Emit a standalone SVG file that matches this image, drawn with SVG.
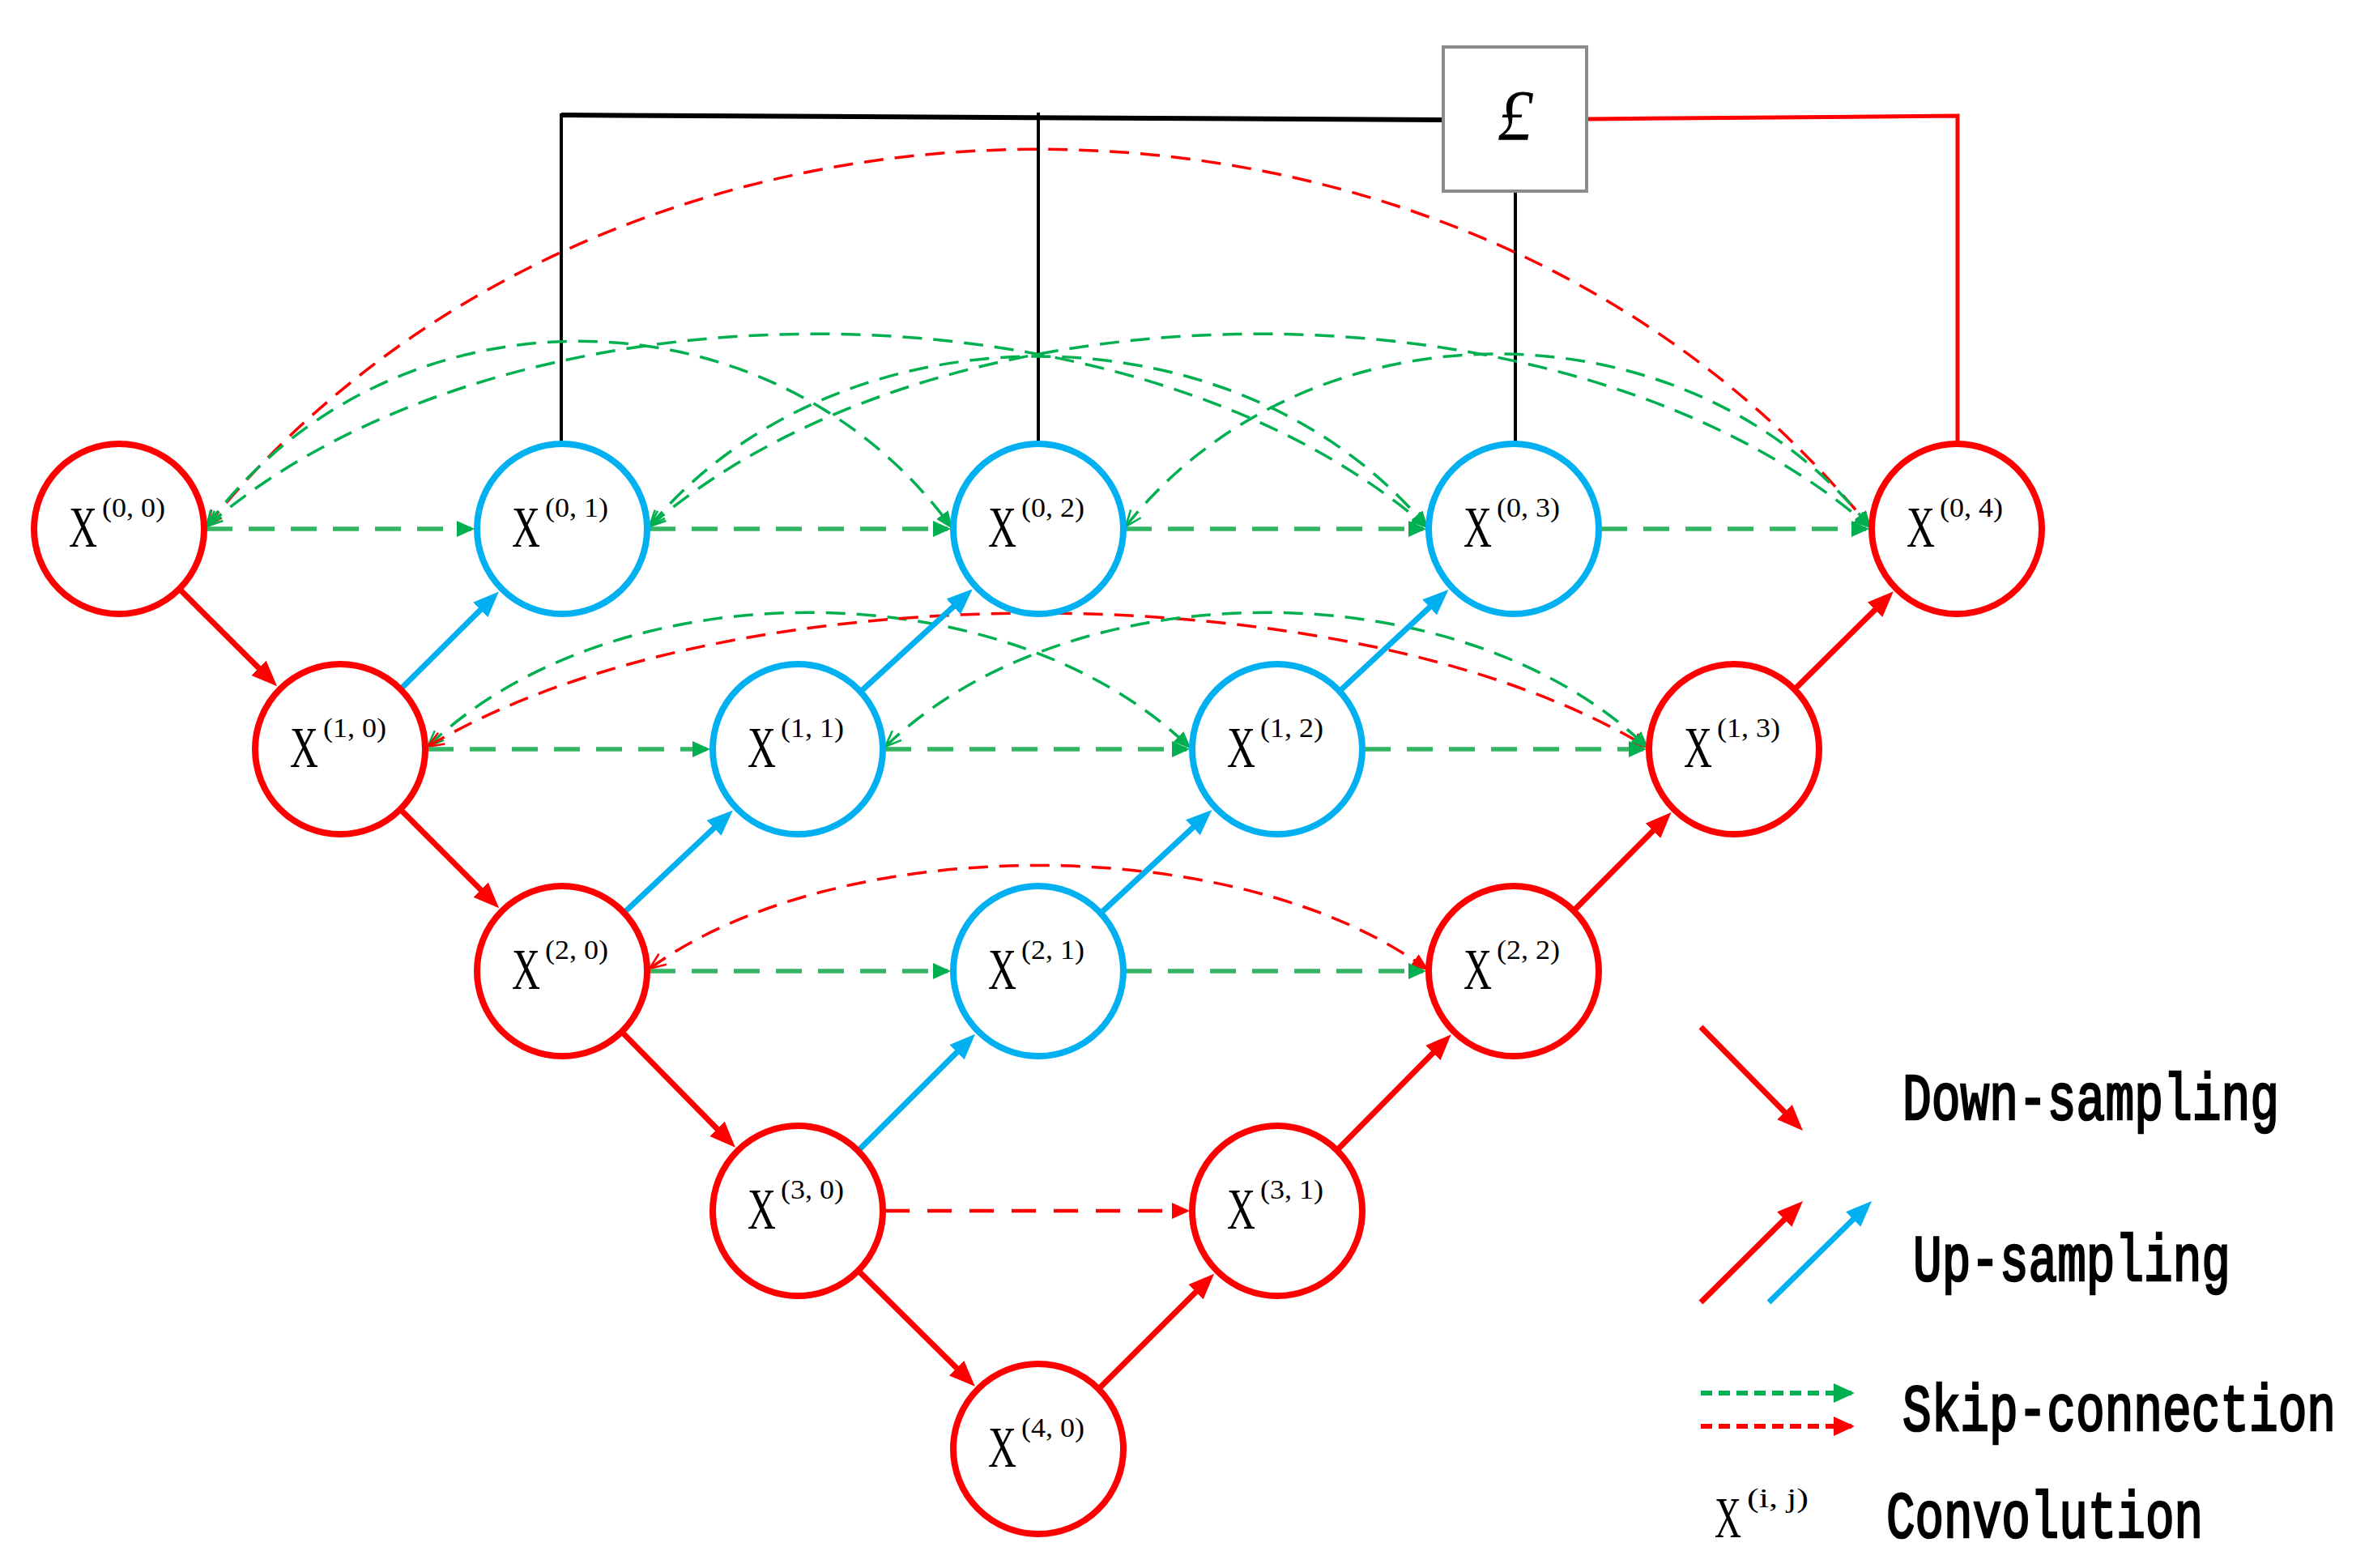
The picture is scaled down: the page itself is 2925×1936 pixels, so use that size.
<svg xmlns="http://www.w3.org/2000/svg" width="2925" height="1936" viewBox="0 0 2925 1936">
<style>
  .bg { fill: #ffffff; }
  .red circle { fill: #ffffff; stroke: #ff0000; stroke-width: 8; }
  .blue circle { fill: #ffffff; stroke: #00b0f0; stroke-width: 8; }
  .lx { font-family: "Liberation Serif", serif; font-size: 50px; fill: #000000; }
  .ls { font-family: "Liberation Serif", serif; font-size: 33px; fill: #000000; }
  .down { stroke: #ff0000; stroke-width: 7; fill: none; marker-end: url(#aR); }
  .upR { stroke: #ff0000; stroke-width: 7; fill: none; marker-end: url(#aR); }
  .upB { stroke: #00b0f0; stroke-width: 7; fill: none; marker-end: url(#aB); }
  .skG { stroke: #33b563; stroke-width: 5.5; fill: none; stroke-dasharray: 32 20; marker-end: url(#mG); }
  .skR { stroke: #ff0000; stroke-width: 4.5; fill: none; stroke-dasharray: 30 22; marker-end: url(#mR); }
  .arcG { stroke: #00b050; stroke-width: 3.5; fill: none; stroke-dasharray: 24 14; marker-start: url(#oG); marker-end: url(#eG); }
  .arcR { stroke: #ff0000; stroke-width: 3.5; fill: none; stroke-dasharray: 24 14; marker-start: url(#oR); marker-end: url(#eR); }
  .loss { stroke: #000000; fill: none; }
  .leg { font-family: "Liberation Mono", monospace; font-size: 60px; font-weight: normal; fill: #000000; stroke: #000000; stroke-width: 2; }
</style>
<defs>
  <marker id="aR" viewBox="0 0 32 26" markerWidth="32" markerHeight="26" refX="22" refY="13" orient="auto" markerUnits="userSpaceOnUse"><path d="M0,0 L32,13 L0,26 z" fill="#ff0000"/></marker>
  <marker id="aB" viewBox="0 0 32 26" markerWidth="32" markerHeight="26" refX="22" refY="13" orient="auto" markerUnits="userSpaceOnUse"><path d="M0,0 L32,13 L0,26 z" fill="#00b0f0"/></marker>
  <marker id="mG" viewBox="0 0 22 20" markerWidth="22" markerHeight="20" refX="18" refY="10" orient="auto" markerUnits="userSpaceOnUse"><path d="M0,0 L22,10 L0,20 z" fill="#00b050"/></marker>
  <marker id="mR" viewBox="0 0 22 20" markerWidth="22" markerHeight="20" refX="18" refY="10" orient="auto" markerUnits="userSpaceOnUse"><path d="M0,0 L22,10 L0,20 z" fill="#ff0000"/></marker>
  <marker id="eG" viewBox="0 0 22 18" markerWidth="22" markerHeight="18" refX="18" refY="9" orient="auto" markerUnits="userSpaceOnUse"><path d="M0,0 L22,9 L0,18 z" fill="#00b050"/></marker>
  <marker id="eR" viewBox="0 0 22 18" markerWidth="22" markerHeight="18" refX="18" refY="9" orient="auto" markerUnits="userSpaceOnUse"><path d="M0,0 L22,9 L0,18 z" fill="#ff0000"/></marker>
  <marker id="oG" viewBox="0 0 24 20" markerWidth="24" markerHeight="20" refX="22" refY="10" orient="auto-start-reverse" markerUnits="userSpaceOnUse"><path d="M2,2 L22,10 L2,18" fill="none" stroke="#00b050" stroke-width="2.5"/></marker>
  <marker id="oR" viewBox="0 0 24 20" markerWidth="24" markerHeight="20" refX="22" refY="10" orient="auto-start-reverse" markerUnits="userSpaceOnUse"><path d="M2,2 L22,10 L2,18" fill="none" stroke="#ff0000" stroke-width="2.5"/></marker>
  <marker id="lG" viewBox="0 0 26 24" markerWidth="26" markerHeight="24" refX="22" refY="12" orient="auto" markerUnits="userSpaceOnUse"><path d="M0,0 L26,12 L0,24 z" fill="#00b050"/></marker>
  <marker id="lR" viewBox="0 0 26 24" markerWidth="26" markerHeight="24" refX="22" refY="12" orient="auto" markerUnits="userSpaceOnUse"><path d="M0,0 L26,12 L0,24 z" fill="#ff0000"/></marker>
</defs>
<rect class="bg" x="0" y="0" width="2925" height="1936"/>

<g id="connectors">
  <path class="loss" stroke-width="6" d="M693,142 L1782,148"/>
  <path class="loss" stroke-width="4" d="M693,140 V547"/>
  <path class="loss" stroke-width="4" d="M1282,139 V547"/>
  <path class="loss" stroke-width="4" d="M1871,236 V547"/>
  <path d="M1960,147 L2417,143 V547" fill="none" stroke="#ff0000" stroke-width="5"/>

  <path class="arcR" d="M255,650 C756,29 1807,29 2308,650"/>
  <path class="arcG" d="M255,650 C479,345 950,345 1174,650"/>
  <path class="arcG" d="M255,650 C622,333 1394,333 1761,650"/>
  <path class="arcG" d="M802,650 C1036,370 1527,370 1761,650"/>
  <path class="arcG" d="M802,650 C1169,333 1941,333 2308,650"/>
  <path class="arcG" d="M1390,650 C1614,366 2084,366 2308,650"/>
  <path class="arcG" d="M528,922 C757,701 1239,701 1468,922"/>
  <path class="arcR" d="M528,922 C895,702 1666,702 2033,922"/>
  <path class="arcG" d="M1093,922 C1322,701 1804,701 2033,922"/>
  <path class="arcR" d="M802,1196 C1036,1026 1527,1026 1761,1196"/>

  <path class="skG" d="M255,653 H582"/>
  <path class="skG" d="M802,653 H1170"/>
  <path class="skG" d="M1390,653 H1757"/>
  <path class="skG" d="M1977,653 H2304"/>
  <path class="skG" d="M528,925 H873"/>
  <path class="skG" d="M1093,925 H1465"/>
  <path class="skG" d="M1685,925 H2029"/>
  <path class="skG" d="M802,1199 H1170"/>
  <path class="skG" d="M1390,1199 H1757"/>
  <path class="skR" d="M1093,1495 H1465"/>

  <path class="down" d="M222.1,727.8 L335.0,840.3"/>
  <path class="down" d="M495.0,1000.0 L609.1,1114.1"/>
  <path class="down" d="M768.3,1274.6 L900.9,1409.5"/>
  <path class="down" d="M1060.3,1569.6 L1196.7,1704.6"/>

  <path class="upR" d="M1357.1,1714.2 L1492.0,1579.7"/>
  <path class="upR" d="M1651.4,1419.5 L1784.7,1284.4"/>
  <path class="upR" d="M1943.7,1123.8 L2056.5,1010.2"/>
  <path class="upR" d="M2216.4,850.5 L2330.7,737.4"/>

  <path class="upB" d="M495.2,850.3 L608.8,737.5"/>
  <path class="upB" d="M771.2,1126.3 L897.6,1007.3"/>
  <path class="upB" d="M1060.1,1420.2 L1197.0,1283.7"/>
  <path class="upB" d="M1063.2,853.4 L1193.5,734.1"/>
  <path class="upB" d="M1359.7,1126.9 L1489.1,1006.7"/>
  <path class="upB" d="M1654.6,852.8 L1781.2,734.8"/>
</g>

<g id="loss">
  <rect x="1782" y="58" width="177" height="178" fill="#ffffff" stroke="#8c8c8c" stroke-width="4"/>
  <text x="1871" y="172" text-anchor="middle" font-family="Liberation Serif, serif" font-style="italic" font-size="88" fill="#000000">£</text>
</g>

<g id="X00" class="red"><circle cx="147" cy="653" r="105"/><text class="lx" transform="translate(85 675) scale(1 1.45)" textLength="35" lengthAdjust="spacingAndGlyphs">X</text><text class="ls" x="126" y="638" textLength="78" lengthAdjust="spacingAndGlyphs">(0, 0)</text></g>
<g id="X01" class="blue"><circle cx="694" cy="653" r="105"/><text class="lx" transform="translate(632 675) scale(1 1.45)" textLength="35" lengthAdjust="spacingAndGlyphs">X</text><text class="ls" x="673" y="638" textLength="78" lengthAdjust="spacingAndGlyphs">(0, 1)</text></g>
<g id="X02" class="blue"><circle cx="1282" cy="653" r="105"/><text class="lx" transform="translate(1220 675) scale(1 1.45)" textLength="35" lengthAdjust="spacingAndGlyphs">X</text><text class="ls" x="1261" y="638" textLength="78" lengthAdjust="spacingAndGlyphs">(0, 2)</text></g>
<g id="X03" class="blue"><circle cx="1869" cy="653" r="105"/><text class="lx" transform="translate(1807 675) scale(1 1.45)" textLength="35" lengthAdjust="spacingAndGlyphs">X</text><text class="ls" x="1848" y="638" textLength="78" lengthAdjust="spacingAndGlyphs">(0, 3)</text></g>
<g id="X04" class="red"><circle cx="2416" cy="653" r="105"/><text class="lx" transform="translate(2354 675) scale(1 1.45)" textLength="35" lengthAdjust="spacingAndGlyphs">X</text><text class="ls" x="2395" y="638" textLength="78" lengthAdjust="spacingAndGlyphs">(0, 4)</text></g>

<g id="X10" class="red"><circle cx="420" cy="925" r="105"/><text class="lx" transform="translate(358 947) scale(1 1.45)" textLength="35" lengthAdjust="spacingAndGlyphs">X</text><text class="ls" x="399" y="910" textLength="78" lengthAdjust="spacingAndGlyphs">(1, 0)</text></g>
<g id="X11" class="blue"><circle cx="985" cy="925" r="105"/><text class="lx" transform="translate(923 947) scale(1 1.45)" textLength="35" lengthAdjust="spacingAndGlyphs">X</text><text class="ls" x="964" y="910" textLength="78" lengthAdjust="spacingAndGlyphs">(1, 1)</text></g>
<g id="X12" class="blue"><circle cx="1577" cy="925" r="105"/><text class="lx" transform="translate(1515 947) scale(1 1.45)" textLength="35" lengthAdjust="spacingAndGlyphs">X</text><text class="ls" x="1556" y="910" textLength="78" lengthAdjust="spacingAndGlyphs">(1, 2)</text></g>
<g id="X13" class="red"><circle cx="2141" cy="925" r="105"/><text class="lx" transform="translate(2079 947) scale(1 1.45)" textLength="35" lengthAdjust="spacingAndGlyphs">X</text><text class="ls" x="2120" y="910" textLength="78" lengthAdjust="spacingAndGlyphs">(1, 3)</text></g>

<g id="X20" class="red"><circle cx="694" cy="1199" r="105"/><text class="lx" transform="translate(632 1221) scale(1 1.45)" textLength="35" lengthAdjust="spacingAndGlyphs">X</text><text class="ls" x="673" y="1184" textLength="78" lengthAdjust="spacingAndGlyphs">(2, 0)</text></g>
<g id="X21" class="blue"><circle cx="1282" cy="1199" r="105"/><text class="lx" transform="translate(1220 1221) scale(1 1.45)" textLength="35" lengthAdjust="spacingAndGlyphs">X</text><text class="ls" x="1261" y="1184" textLength="78" lengthAdjust="spacingAndGlyphs">(2, 1)</text></g>
<g id="X22" class="red"><circle cx="1869" cy="1199" r="105"/><text class="lx" transform="translate(1807 1221) scale(1 1.45)" textLength="35" lengthAdjust="spacingAndGlyphs">X</text><text class="ls" x="1848" y="1184" textLength="78" lengthAdjust="spacingAndGlyphs">(2, 2)</text></g>

<g id="X30" class="red"><circle cx="985" cy="1495" r="105"/><text class="lx" transform="translate(923 1517) scale(1 1.45)" textLength="35" lengthAdjust="spacingAndGlyphs">X</text><text class="ls" x="964" y="1480" textLength="78" lengthAdjust="spacingAndGlyphs">(3, 0)</text></g>
<g id="X31" class="red"><circle cx="1577" cy="1495" r="105"/><text class="lx" transform="translate(1515 1517) scale(1 1.45)" textLength="35" lengthAdjust="spacingAndGlyphs">X</text><text class="ls" x="1556" y="1480" textLength="78" lengthAdjust="spacingAndGlyphs">(3, 1)</text></g>

<g id="X40" class="red"><circle cx="1282" cy="1789" r="105"/><text class="lx" transform="translate(1220 1811) scale(1 1.45)" textLength="35" lengthAdjust="spacingAndGlyphs">X</text><text class="ls" x="1261" y="1774" textLength="78" lengthAdjust="spacingAndGlyphs">(4, 0)</text></g>

<g id="legend">
  <path class="down" stroke-width="5.5" d="M2100,1268 L2219,1388.9"/>
  <text class="leg" transform="translate(2349 1382) scale(1 1.37)" textLength="465" lengthAdjust="spacingAndGlyphs">Down-sampling</text>
  <path class="upR" stroke-width="5.5" d="M2100,1608 L2218.9,1490"/>
  <path class="upB" stroke-width="5.5" d="M2184,1608 L2303.9,1490"/>
  <text class="leg" transform="translate(2362 1581) scale(1 1.37)" textLength="392" lengthAdjust="spacingAndGlyphs">Up-sampling</text>
  <path d="M2100,1720 H2286" fill="none" stroke="#00b050" stroke-width="6" stroke-dasharray="14 8" marker-end="url(#lG)"/>
  <path d="M2100,1761 H2286" fill="none" stroke="#ff0000" stroke-width="6" stroke-dasharray="14 8" marker-end="url(#lR)"/>
  <text class="leg" transform="translate(2349 1766) scale(1 1.37)" textLength="535" lengthAdjust="spacingAndGlyphs">Skip-connection</text>
  <text class="lx" transform="translate(2117 1898) scale(1 1.45)" textLength="33" lengthAdjust="spacingAndGlyphs">X</text>
  <text class="ls" x="2157" y="1861" textLength="76" lengthAdjust="spacingAndGlyphs">(i, j)</text>
  <text class="leg" transform="translate(2329 1898) scale(1 1.37)" textLength="391" lengthAdjust="spacingAndGlyphs">Convolution</text>
</g>
</svg>
